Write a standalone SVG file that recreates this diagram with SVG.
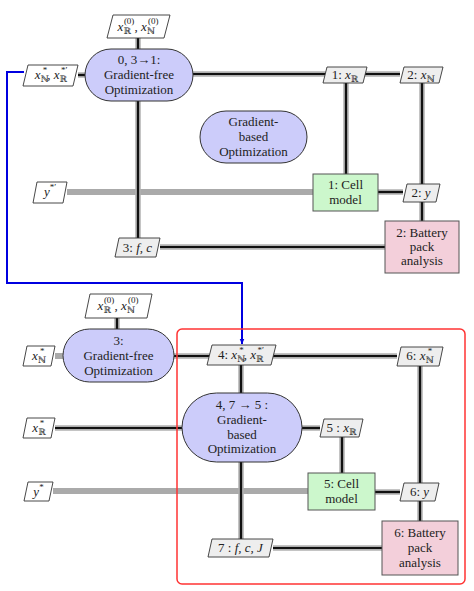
<svg xmlns="http://www.w3.org/2000/svg" width="474" height="591" viewBox="0 0 474 591">
<style>
.t{font-family:"Liberation Serif","DejaVu Serif",serif;font-size:13px;fill:#222;text-anchor:middle}
.m{font-style:italic}
.s{font-size:9px;font-style:normal}
.opt{fill:#ccccfa;stroke:#333;stroke-width:1}
.cell{fill:#ccf7cc;stroke:#555;stroke-width:1}
.bat{fill:#f3cfda;stroke:#555;stroke-width:1}
.din{fill:#eeeeee;stroke:#333;stroke-width:0.9}
.dout{fill:#ffffff;stroke:#333;stroke-width:0.9}
.g{stroke:#b0b0b0;stroke-width:5.5;fill:none}
.k{stroke:#111;stroke-width:2.2;fill:none}
.gi{stroke:#aaaaaa;stroke-width:6;fill:none}
</style>
<defs>
<marker id="arr" viewBox="0 0 10 10" refX="9" refY="5" markerWidth="6" markerHeight="6" orient="auto" markerUnits="userSpaceOnUse">
<path d="M0,1 L10,5 L0,9 Z" fill="#0000e0"/>
</marker>
</defs>

<g id="connectors">
<!-- input-only gray lines -->
<path class="gi" d="M67,192 H313"/>
<path class="gi" d="M55,356 H63"/>
<path class="gi" d="M53,491 H308"/>
<!-- data lines: gray underlay -->
<g class="g">
<path d="M138,38 V49"/>
<path d="M78,75 H85"/>
<path d="M193,74 H400"/>
<path d="M346,83 V174"/>
<path d="M422,83 V221"/>
<path d="M378,192 H403"/>
<path d="M138,101 V240"/>
<path d="M160,247 H385"/>
<path d="M117,318 V329"/>
<path d="M174,356 H397"/>
<path d="M241,365 V540"/>
<path d="M55,428 H182"/>
<path d="M302,428 H320"/>
<path d="M342,437 V473"/>
<path d="M420,366 V521"/>
<path d="M375,492 H400"/>
<path d="M273,548 H382"/>
</g>
<g class="k">
<path d="M138,38 V49"/>
<path d="M78,75 H85"/>
<path d="M193,74 H400"/>
<path d="M346,83 V174"/>
<path d="M422,83 V221"/>
<path d="M378,192 H403"/>
<path d="M138,101 V240"/>
<path d="M160,247 H385"/>
<path d="M117,318 V329"/>
<path d="M174,356 H397"/>
<path d="M241,365 V540"/>
<path d="M55,428 H182"/>
<path d="M302,428 H320"/>
<path d="M342,437 V473"/>
<path d="M420,366 V521"/>
<path d="M375,492 H400"/>
<path d="M273,548 H382"/>
</g>
<!-- blue feedback -->
<path d="M24,72 H7 V283 H242 V344" fill="none" stroke="#0000e0" stroke-width="2" marker-end="url(#arr)"/>
</g>

<rect id="red-frame" x="177" y="329" width="288" height="255" rx="5" fill="none" stroke="#ff3333" stroke-width="1.5"/>

<!-- Top section nodes -->
<g id="top-x0">
<polygon class="dout" points="113,15 170,15 164,38 107,38"/>
<text class="t" x="138" y="31"><tspan class="m">x</tspan><tspan class="s" dy="3">ℝ</tspan><tspan class="s" dx="-7" dy="-10">(0)</tspan><tspan dy="7">, </tspan><tspan class="m">x</tspan><tspan class="s" dy="3">ℕ</tspan><tspan class="s" dx="-7" dy="-10">(0)</tspan></text>
</g>
<g id="top-xstar-out">
<polygon class="dout" points="28,65 78,65 73,86 23,86"/>
<text class="t" x="51" y="79"><tspan class="m">x</tspan><tspan class="s" dy="3">ℕ</tspan><tspan class="s" dx="-6" dy="-9">*</tspan><tspan dy="6">, </tspan><tspan class="m">x</tspan><tspan class="s" dy="3">ℝ</tspan><tspan class="s" dx="-6" dy="-9">*′</tspan></text>
</g>
<g id="top-gf-opt">
<rect class="opt" x="85" y="49" width="108" height="52" rx="26"/>
<text class="t" x="139" y="64">0, 3→1:</text>
<text class="t" x="139" y="79">Gradient-free</text>
<text class="t" x="139" y="94">Optimization</text>
</g>
<g id="top-gb-opt">
<rect class="opt" x="200" y="111" width="107" height="52" rx="26"/>
<text class="t" x="253.5" y="126">Gradient-</text>
<text class="t" x="253.5" y="141">based</text>
<text class="t" x="253.5" y="156">Optimization</text>
</g>
<g id="top-1-xR">
<polygon class="din" points="327,67 367,67 363,83 323,83"/>
<text class="t" x="345" y="79">1: <tspan class="m">x</tspan><tspan class="s" dy="3">ℝ</tspan></text>
</g>
<g id="top-2-xN">
<polygon class="din" points="404,67 443,67 439,83 400,83"/>
<text class="t" x="421" y="79">2: <tspan class="m">x</tspan><tspan class="s" dy="3">ℕ</tspan></text>
</g>
<g id="top-ystar">
<polygon class="dout" points="37,182 67,182 63,203 33,203"/>
<text class="t" x="50" y="196"><tspan class="m">y</tspan><tspan class="s" dy="-6">*′</tspan></text>
</g>
<g id="top-cell">
<rect class="cell" x="313" y="174" width="65" height="37"/>
<text class="t" x="345.5" y="189">1: Cell</text>
<text class="t" x="345.5" y="204">model</text>
</g>
<g id="top-2-y">
<polygon class="din" points="407,184 440,184 436,202 403,202"/>
<text class="t" x="421" y="197">2: <tspan class="m">y</tspan></text>
</g>
<g id="top-battery">
<rect class="bat" x="385" y="221" width="74" height="52"/>
<text class="t" x="422" y="237">2: Battery</text>
<text class="t" x="422" y="251">pack</text>
<text class="t" x="422" y="265">analysis</text>
</g>
<g id="top-3-fc">
<polygon class="din" points="119,238 160,238 156,257 115,257"/>
<text class="t" x="137.5" y="252">3: <tspan class="m">f, c</tspan></text>
</g>

<!-- Bottom section nodes -->
<g id="bot-x0">
<polygon class="dout" points="90,294 152,294 147,318 85,318"/>
<text class="t" x="118" y="310"><tspan class="m">x</tspan><tspan class="s" dy="3">ℝ</tspan><tspan class="s" dx="-7" dy="-10">(0)</tspan><tspan dy="7">, </tspan><tspan class="m">x</tspan><tspan class="s" dy="3">ℕ</tspan><tspan class="s" dx="-7" dy="-10">(0)</tspan></text>
</g>
<g id="bot-xNstar">
<polygon class="dout" points="27,346 55,346 51,366 23,366"/>
<text class="t" x="39" y="360"><tspan class="m">x</tspan><tspan class="s" dy="3">ℕ</tspan><tspan class="s" dx="-6" dy="-9">*</tspan></text>
</g>
<g id="bot-gf-opt">
<rect class="opt" x="63" y="329" width="111" height="53" rx="26.5"/>
<text class="t" x="118.5" y="345">3:</text>
<text class="t" x="118.5" y="360">Gradient-free</text>
<text class="t" x="118.5" y="375">Optimization</text>
</g>
<g id="bot-4">
<polygon class="din" points="212,345 276,345 271,365 207,365"/>
<text class="t" x="241" y="359">4: <tspan class="m">x</tspan><tspan class="s" dy="3">ℕ</tspan><tspan class="s" dx="-6" dy="-9">*</tspan><tspan dy="6">, </tspan><tspan class="m">x</tspan><tspan class="s" dy="3">ℝ</tspan><tspan class="s" dx="-6" dy="-9">*′</tspan></text>
</g>
<g id="bot-6-xN">
<polygon class="din" points="401,347 443,347 439,366 397,366"/>
<text class="t" x="420" y="360">6: <tspan class="m">x</tspan><tspan class="s" dy="3">ℕ</tspan><tspan class="s" dx="-6" dy="-9">*</tspan></text>
</g>
<g id="bot-gb-opt">
<rect class="opt" x="182" y="393" width="120" height="69" rx="34.5"/>
<text class="t" x="242" y="409">4, 7 → 5 :</text>
<text class="t" x="242" y="424">Gradient-</text>
<text class="t" x="242" y="439">based</text>
<text class="t" x="242" y="453">Optimization</text>
</g>
<g id="bot-5-xR">
<polygon class="din" points="324,419 363,419 359,437 320,437"/>
<text class="t" x="341.5" y="432">5 : <tspan class="m">x</tspan><tspan class="s" dy="3">ℝ</tspan></text>
</g>
<g id="bot-xRstar">
<polygon class="dout" points="27,418 55,418 51,438 23,438"/>
<text class="t" x="39" y="432"><tspan class="m">x</tspan><tspan class="s" dy="3">ℝ</tspan><tspan class="s" dx="-6" dy="-9">*</tspan></text>
</g>
<g id="bot-ystar">
<polygon class="dout" points="28,482 53,482 49,501 24,501"/>
<text class="t" x="38.5" y="496"><tspan class="m">y</tspan><tspan class="s" dy="-6">*</tspan></text>
</g>
<g id="bot-cell">
<rect class="cell" x="308" y="473" width="67" height="37"/>
<text class="t" x="341.5" y="488">5: Cell</text>
<text class="t" x="341.5" y="503">model</text>
</g>
<g id="bot-6-y">
<polygon class="din" points="404,483 439,483 435,501 400,501"/>
<text class="t" x="419.5" y="496">6: <tspan class="m">y</tspan></text>
</g>
<g id="bot-battery">
<rect class="bat" x="382" y="521" width="76" height="54"/>
<text class="t" x="420" y="537">6: Battery</text>
<text class="t" x="420" y="552">pack</text>
<text class="t" x="420" y="567">analysis</text>
</g>
<g id="bot-7">
<polygon class="din" points="212,539 273,539 269,557 208,557"/>
<text class="t" x="240.5" y="552">7 : <tspan class="m">f, c, J</tspan></text>
</g>
</svg>
